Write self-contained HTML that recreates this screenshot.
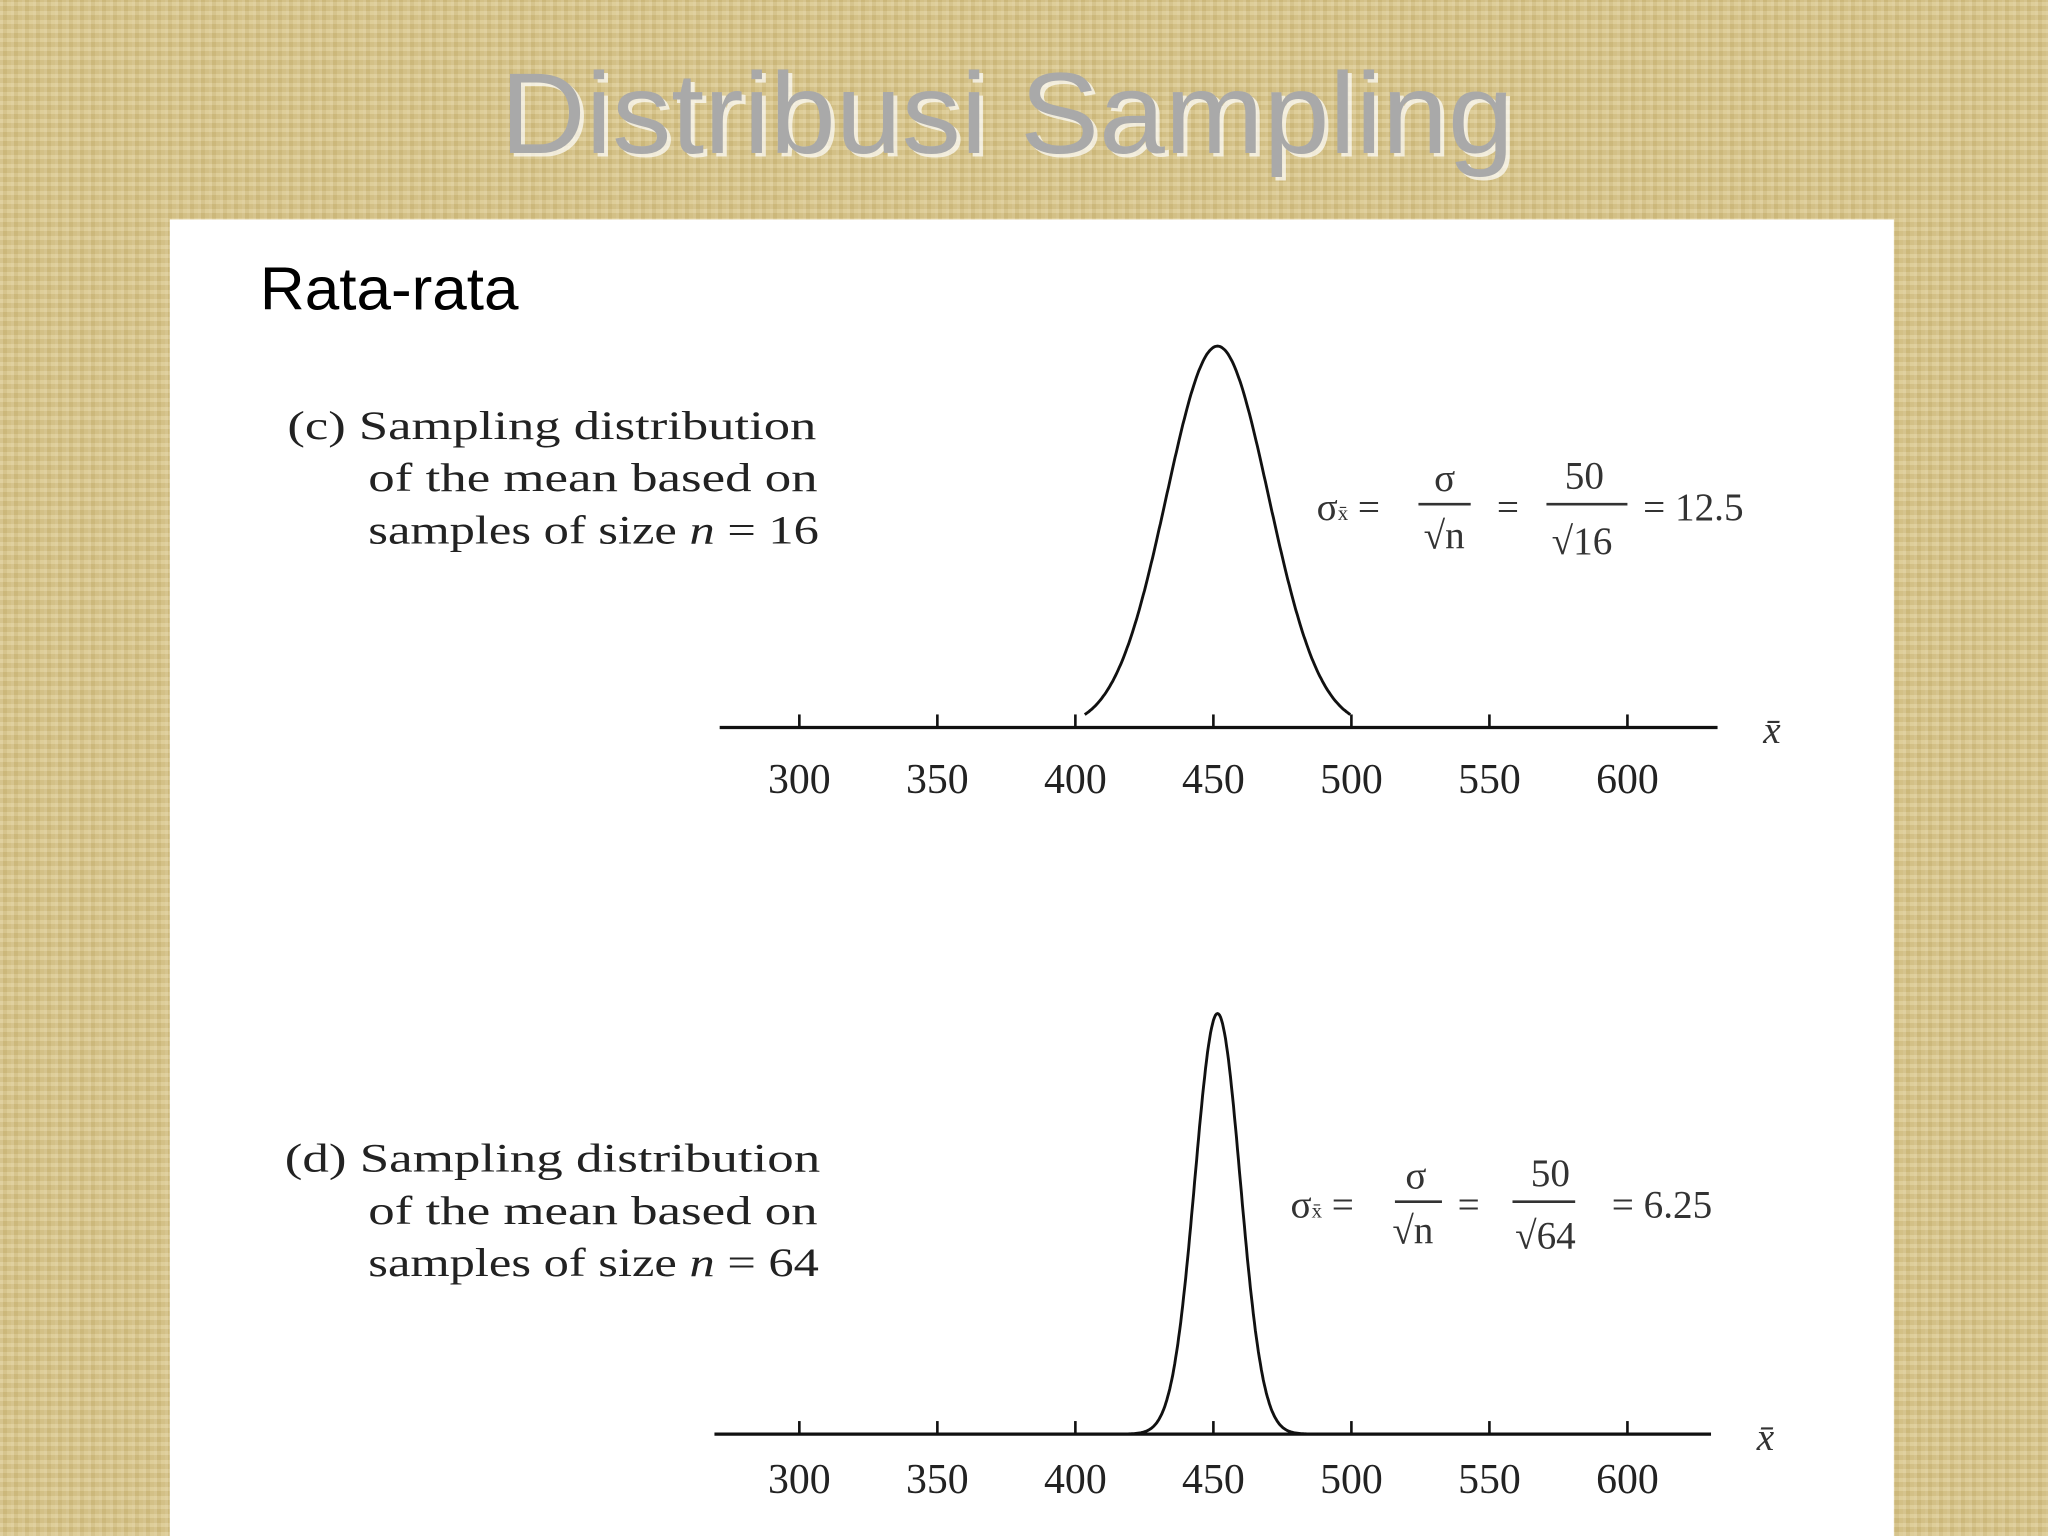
<!DOCTYPE html>
<html><head><meta charset="utf-8"><style>
html,body{margin:0;padding:0;width:2048px;height:1536px;overflow:hidden}
body{background:#d8c588;background-image:repeating-linear-gradient(90deg,rgba(255,255,255,0.10) 0 3px,rgba(120,90,30,0.06) 3px 7px,rgba(255,255,255,0.05) 7px 11px),repeating-linear-gradient(0deg,rgba(255,255,255,0.10) 0 4px,rgba(120,90,30,0.07) 4px 9px)}
svg{position:absolute;left:0;top:0}
</style></head><body>
<svg id="s" width="2048" height="1536" viewBox="0 0 1568 1176">
<text x="386" y="120" textLength="776" lengthAdjust="spacingAndGlyphs" font-family="Liberation Sans, sans-serif" font-size="88" fill="#fff" opacity="0.7">Distribusi Sampling</text>
<text x="383" y="117" textLength="776" lengthAdjust="spacingAndGlyphs" font-family="Liberation Sans, sans-serif" font-size="88" fill="#a9a9a9">Distribusi Sampling</text>
<rect x="130" y="168" width="1320" height="1008" fill="#fff"/>
<text x="199" y="237" textLength="198" lengthAdjust="spacingAndGlyphs" font-family="Liberation Sans, sans-serif" font-size="46" fill="#000">Rata-rata</text>
<g font-family="Liberation Serif, serif" font-size="31" fill="#222">
<text x="220" y="336" textLength="405" lengthAdjust="spacingAndGlyphs">(c)  Sampling distribution</text>
<text x="282" y="376" textLength="344" lengthAdjust="spacingAndGlyphs">of the mean based on</text>
<text x="282" y="416" textLength="345" lengthAdjust="spacingAndGlyphs">samples of size <tspan font-style="italic">n</tspan> = 16</text>
</g>
<g font-family="Liberation Serif, serif" font-size="31" fill="#222">
<text x="218" y="897" textLength="410" lengthAdjust="spacingAndGlyphs">(d)  Sampling distribution</text>
<text x="282" y="937" textLength="344" lengthAdjust="spacingAndGlyphs">of the mean based on</text>
<text x="282" y="977" textLength="345" lengthAdjust="spacingAndGlyphs">samples of size <tspan font-style="italic">n</tspan> = 64</text>
</g>
<g font-family="Liberation Serif, serif" font-size="30" fill="#333">
<text x="1008" y="398">σ<tspan font-size="16">x̄</tspan> =</text>
<text x="1098" y="376">σ</text><line x1="1086" y1="386" x2="1126" y2="386" stroke="#333" stroke-width="2"/>
<text x="1090" y="420">√n</text>
<text x="1146" y="398">=</text>
<text x="1198" y="374">50</text><line x1="1184" y1="386" x2="1246" y2="386" stroke="#333" stroke-width="2"/>
<text x="1188" y="424">√16</text>
<text x="1258" y="398">= 12.5</text>
</g>
<g font-family="Liberation Serif, serif" font-size="30" fill="#333">
<text x="988" y="932">σ<tspan font-size="16">x̄</tspan> =</text>
<text x="1076" y="910">σ</text><line x1="1068" y1="920" x2="1104" y2="920" stroke="#333" stroke-width="2"/>
<text x="1066" y="952">√n</text>
<text x="1116" y="932">=</text>
<text x="1172" y="908">50</text><line x1="1158" y1="920" x2="1206" y2="920" stroke="#333" stroke-width="2"/>
<text x="1160" y="956">√64</text>
<text x="1234" y="932">= 6.25</text>
</g>
<g id="charts"></g>
</svg>
<script>
const tickValues=[300,350,400,450,500,550,600];
const tickLabels=["300","350","400","450","500","550","600"];
const chartMeans=[451.5,451.5];
const chartSigmas=[18.5,8.2];
const chartSpan=[2.6,4.4];
const chartNames=["c","d"];
const NS="http://www.w3.org/2000/svg";
const g=document.getElementById('charts');
const layouts=[{axisY:557,x0:551,x1:1315,top:265,labelY:607,xl:1350},{axisY:1098,x0:547,x1:1310,top:776,labelY:1143,xl:1345}];
function xs(v){return 612+(v-300)*(1246-612)/300;}
function mk(tag,attrs){const e=document.createElementNS(NS,tag);for(const k in attrs)e.setAttribute(k,attrs[k]);return e;}
chartNames.forEach((nm,i)=>{
  const L=layouts[i];
  const ax=mk('line',{x1:L.x0,y1:L.axisY,x2:L.x1,y2:L.axisY,stroke:'#111','stroke-width':2.5});
  
  
  g.appendChild(ax);
  tickValues.forEach((t,j)=>{
    const tk=mk('line',{x1:xs(t),y1:L.axisY-10,x2:xs(t),y2:L.axisY,stroke:'#111','stroke-width':2});
    
    
    g.appendChild(tk);
    const tl=mk('text',{x:xs(t),y:L.labelY,'text-anchor':'middle','font-family':'Liberation Serif, serif','font-size':32,fill:'#222'});
    tl.textContent=tickLabels[j];
    
    
    g.appendChild(tl);
  });
  const xl=mk('text',{x:L.xl,y:L.axisY+12,'font-family':'Liberation Serif, serif','font-style':'italic','font-size':30,fill:'#333'});
  xl.textContent='x̄';
  
  
  g.appendChild(xl);
  const m=chartMeans[i],s=chartSigmas[i],h=L.axisY-L.top;
  let d='';
  for(let k=0;k<=200;k++){
    const z=-chartSpan[i]+2*chartSpan[i]*k/200;
    const v=m+z*s;
    const y=L.axisY-h*Math.exp(-z*z/2);
    d+=(k?'L':'M')+xs(v).toFixed(1)+' '+y.toFixed(1);
  }
  const p=mk('path',{d:d,fill:'none',stroke:'#111','stroke-width':2.2});
  
  
  g.appendChild(p);
});
</script>
</body></html>
